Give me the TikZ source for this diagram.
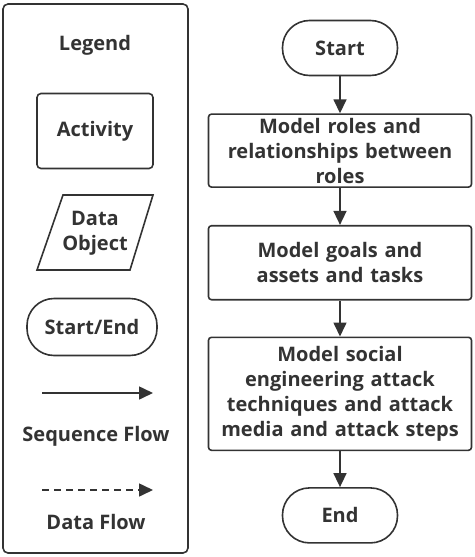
\documentclass[tikz,border=0pt]{standalone}
\usepackage{fontspec}
\setmainfont{Open Sans}
\usetikzlibrary{arrows.meta,positioning}
\definecolor{ink}{HTML}{333333}
\tikzset{
  act/.style={rectangle, draw=ink, line width=1.6pt, rounded corners=3pt, minimum width=263pt, minimum height=74pt, text width=259pt, align=center, inner sep=0pt},
  term/.style={rectangle, draw=ink, line width=1.6pt, rounded corners=27pt, minimum width=115pt, minimum height=55pt},
  flow/.style={draw=ink, line width=1.6pt, -{Triangle[length=14pt,width=13pt]}},
  big/.style={font=\fontsize{20}{25}\selectfont\bfseries, text=ink}
}
\begin{document}
\begin{tikzpicture}[x=1pt,y=-1pt]
    \useasboundingbox (0,0) rectangle (474,557);
    % legend
    \draw[draw=ink, line width=1.6pt, rounded corners=5pt] (3,4) rectangle (188,553);
    \node(leg) [big] at (95,45) {Legend};
    \node(act) [rectangle, draw=ink, line width=1.6pt, rounded corners=4pt, minimum width=116pt, minimum height=75pt, big] at (95,131) {Activity};
    \draw[draw=ink, line width=1.6pt] (63,195) -- (153,195) -- (130,270) -- (37,270) -- cycle;
    \node(dat) [big, align=center] at (95,233) {Data\\Object};
    \node(se) [term, minimum width=130pt, minimum height=57pt, big] at (92,327) {Start/End};
    \coordinate (sqa) at (42,393);
    \coordinate (sqb) at (153,393);
    \draw[flow] (sqa) -- (sqb);
    \node(sql) [big] at (96,436) {Sequence Flow};
    \coordinate (dfa) at (42,490);
    \coordinate (dfb) at (153,490);
    \draw[flow, dash pattern=on 7pt off 5pt] (dfa) -- (dfb);
    \node(dfl) [big] at (96,522) {Data Flow};
    % flow
    \node(start) [term, big] at (340,48) {Start};
    \node(roles) [act, minimum height=73pt, below = 37pt of start, big] {Model roles and\\relationships between\\roles};
    \node(goals) [act, below = 37pt of roles, big] {Model goals and\\assets and tasks};
    \node(attack) [act, minimum height=113pt, below = 36pt of goals, big] {Model social\\engineering attack\\techniques and attack\\media and attack steps};
    \node(end) [term, below = 36pt of attack, big] {End};
    \draw[flow] (start) -- (roles);
    \draw[flow] (roles) -- (goals);
    \draw[flow] (goals) -- (attack);
    \draw[flow] (attack) -- (end);
\end{tikzpicture}
\end{document}
